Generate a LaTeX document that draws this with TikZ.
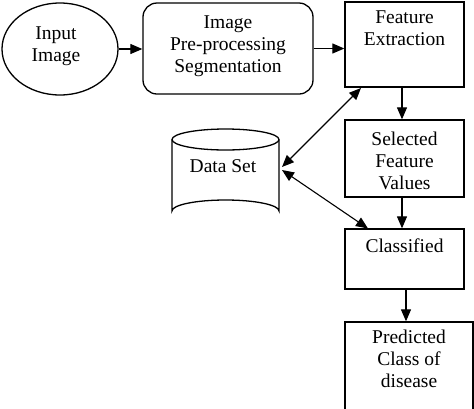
\documentclass[tikz,border=0pt]{standalone}
\usepackage{fontspec}
\setmainfont{Liberation Serif}
\usetikzlibrary{arrows.meta,shapes.geometric}
\begin{document}
\begin{tikzpicture}[x=1pt,y=-1pt,
  every node/.style={font=\fontsize{19.5}{22}\selectfont, inner sep=0pt, align=center, text=black},
  boxsty/.style={draw=black, line width=1.3pt},
  arr/.style={line width=1.2pt, -{Triangle[length=12pt,width=10pt]}},
  darr/.style={line width=1.1pt, {Triangle[length=12pt,width=10pt]}-{Triangle[length=12pt,width=10pt]}}]
\useasboundingbox (0,0) rectangle (474,408);
\clip (0,0) rectangle (474,408);
% shapes
\node[ellipse, draw=black, line width=1.3pt, minimum width=116, minimum height=92] (inp) at (60,49) {};
\node at (56,46) {Input\\Image};
\node[boxsty, rounded corners=14pt, minimum width=170, minimum height=91] (pre) at (228,48.5) {};
\node at (228,46) {Image\\Pre-processing\\Segmentation};
\node[boxsty, minimum width=119, minimum height=85] (fe) at (404.5,44.5) {};
\node[anchor=north] at (404.5,11) {Feature\\Extraction};
\node[boxsty, minimum width=119, minimum height=77] (sel) at (404.5,158.5) {};
\node at (404.5,161) {Selected\\Feature\\Values};
\node[boxsty, minimum width=119, minimum height=60] (cls) at (404.5,259) {};
\node[anchor=north] at (404.5,239) {Classified};
\node[boxsty, minimum width=128, minimum height=92] (pred) at (409,368) {};
\node[anchor=north] at (409,330) {Predicted\\Class of\\disease};
% cylinder
\draw[line width=1.3pt] (225.5,139.5) ellipse [x radius=53.5, y radius=10.5];
\draw[line width=1.3pt] (172,139.5) -- (172,211) arc[start angle=180, end angle=360, x radius=53.5, y radius=11] -- (279,139.5);
\node (ds) at (223,166) {Data Set};
\coordinate (dsA) at (282,167);
\coordinate (dsB) at (282,170);
\coordinate (feA) at (361,88);
\coordinate (clsA) at (368,228.5);
% connectors
\draw[arr] (inp.east) -- (inp.east -| pre.west);
\draw[arr] (pre.east) -- (pre.east -| fe.west);
\draw[arr] (fe.south -| 402,0) -- (sel.north -| 402,0);
\draw[arr] (sel.south -| 402,0) -- (cls.north -| 402,0);
\draw[arr] (cls.south -| 406,0) -- (pred.north -| 406,0);
\draw[darr] (feA) -- (dsA);
\draw[darr] (dsB) -- (clsA);
\end{tikzpicture}
\end{document}
